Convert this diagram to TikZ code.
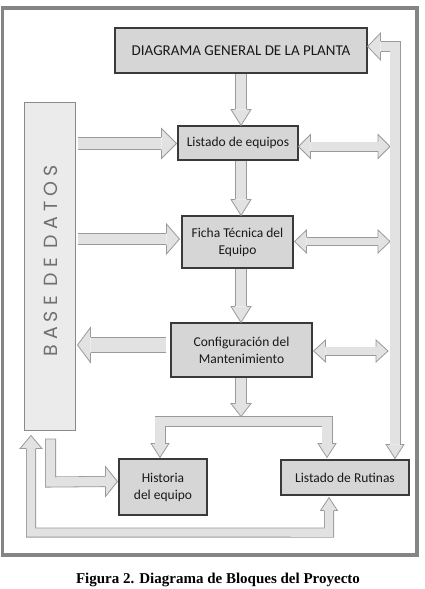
\documentclass[tikz,border=0pt]{standalone}
\usepackage{fontspec}
\setmainfont{Liberation Serif}
\newfontfamily\boxfont{Carlito}
\newfontfamily\dbfont[LetterSpace=26]{Poppins}
\usetikzlibrary{calc}
\definecolor{fl}{HTML}{9A9A9A}
\definecolor{ff}{HTML}{E2E2E2}
\definecolor{bx}{HTML}{D6D6D6}
\definecolor{bxl}{HTML}{3A3A3A}
\definecolor{dbf}{HTML}{EBEBEB}
\definecolor{dbl}{HTML}{8A8A8A}
\definecolor{dbt}{HTML}{707070}
\definecolor{frm}{HTML}{858585}
% fat shaft: width, path, inner options
\newcommand\fshaft[3]{%
  \draw[line width=#1pt, draw=fl, line join=miter, line cap=butt] #2;
  \draw[line width=#1pt-1.6pt, draw=ff, line join=miter, line cap=butt, #3] #2;}
% fat head: tip, angle, length, half width, shaft half width
\newcommand\fhead[5]{%
  \begin{scope}[shift={(#1)}, rotate=#2]
    \fill[ff] (-#3,#5) -- (-#3,#4) -- (0,0) -- (-#3,-#4) -- (-#3,-#5) -- cycle;
    \draw[fl, line width=0.8pt, line join=miter] (-#3,#5) -- (-#3,#4) -- (0,0) -- (-#3,-#4) -- (-#3,-#5);
  \end{scope}}
\tikzset{
  blk/.style={draw=bxl, fill=bx, line width=1.1pt, inner sep=0pt, align=center,
    font=\boxfont\fontsize{13.5}{17}\selectfont, text=black!90},
  tailcap/.style={shorten <=0.8pt},
}
\begin{document}
\begin{tikzpicture}[x=1pt,y=-1pt]
\useasboundingbox (0,0) rectangle (424,589);
\fill[white] (0,0) rectangle (424,589);
\draw[frm, line width=3.5pt] (2.5,8) rectangle (417,555);

% nodes
\node[blk, minimum width=252pt, minimum height=45pt, font=\boxfont\fontsize{15}{17}\selectfont] (top) at (241,50.5) {DIAGRAMA GENERAL DE LA PLANTA};
\node[blk, minimum width=120pt, minimum height=34pt] (lis) at (238,143) {Listado de equipos};
\node[blk, minimum width=111pt, minimum height=52pt] (fic) at (237.5,242) {Ficha Técnica del\\Equipo};
\node[blk, minimum width=141pt, minimum height=54pt] (con) at (241.5,350) {Configuración del\\Mantenimiento};
\node[blk, minimum width=88pt, minimum height=56pt] (his) at (163,487) {Historia\\del equipo};
\node[blk, minimum width=128pt, minimum height=35pt] (rut) at (345,477.5) {Listado de Rutinas};
\node[draw=dbl, fill=dbf, line width=1pt, minimum width=51pt, minimum height=328pt, inner sep=0pt] (bd) at (49.5,266) {};
\node[rotate=90, text=dbt, font=\dbfont\fontsize{19}{22}\selectfont, inner sep=0pt] (bdt) at ($(bd.center)+(1.5,-5)$) {BASE DE DATOS};

% spine arrows
\fshaft{12}{(top.south) -- ($(lis.north -| top.south)+(0,-16)$)}{}
\fhead{lis.north -| top.south}{-90}{16}{10}{5.6}
\fshaft{12}{(lis.south -| top.south) -- ($(fic.north -| top.south)+(0,-16)$)}{}
\fhead{fic.north -| top.south}{-90}{16}{10}{5.6}
\fshaft{12}{(fic.south -| top.south) -- ($(con.north -| top.south)+(0,-16)$)}{}
\fhead{con.north -| top.south}{-90}{16}{10}{5.6}
\coordinate (split) at ($(con.south -| top.south)+(0,39)$);
\fshaft{12}{(con.south -| top.south) -- ($(split)+(0,-13)$)}{}
% branch bar
\coordinate (bl) at ($(his.north)+(-3,-37)$);
\coordinate (br) at ($(rut.north)+(-18,-38)$);
\fshaft{11}{($(his.north)+(-3,-14)$) -- (bl) -- (br) -- ($(rut.north)+(-18,-15)$)}{}
\fhead{split}{-90}{13}{10}{5.6}
\fhead{$(his.north)+(-3,-1)$}{-90}{14}{9}{5.1}
\fhead{$(rut.north)+(-18,-2)$}{-90}{14}{9}{5.1}

% from data base
\fshaft{13}{($(bd.east |- lis.west)+(2,0.5)$) -- ($(lis.west)+(-16,0.5)$)}{tailcap}
\fhead{$(lis.west)+(-1,0.5)$}{0}{15}{15}{6.1}
\fshaft{12}{($(bd.east |- fic.west)+(2,-3)$) -- ($(fic.west)+(-15,-3)$)}{tailcap}
\fhead{$(fic.west)+(-2,-3)$}{0}{13}{15}{5.6}
\fshaft{16}{($(con.west)+(-4,-5)$) -- ($(bd.east |- con.west)+(15,-5)$)}{tailcap}
\fhead{$(bd.east |- con.west)+(2,-5)$}{180}{13}{17.5}{7.6}

% double arrows to right bar
\coordinate (rb) at (395,0);
\fshaft{10}{($(lis.east)+(12,3.5)$) -- ($(rb |- lis.east)+(-17,3.5)$)}{}
\fhead{$(lis.east)+(0,3.5)$}{180}{12}{12}{4.6}
\fhead{$(rb |- lis.east)+(-5,3.5)$}{0}{12}{12}{4.6}
\fshaft{9}{($(fic.east)+(13,-0.5)$) -- ($(rb |- fic.east)+(-17,-0.5)$)}{}
\fhead{$(fic.east)+(1,-0.5)$}{180}{12}{11.5}{4.1}
\fhead{$(rb |- fic.east)+(-5,-0.5)$}{0}{12}{11.5}{4.1}
\fshaft{9}{($(con.east)+(13,1)$) -- ($(rb |- con.east)+(-19,1)$)}{}
\fhead{$(con.east)+(1,1)$}{180}{12}{11}{4.1}
\fhead{$(rb |- con.east)+(-7,1)$}{0}{12}{11}{4.1}

% right loop
\fshaft{11}{($(top.east)+(13,-4)$) -- ($(rb |- top.east)+(0,-4)$) -- ($(rb |- rut.north)+(0,-15)$)}{}
\fhead{$(top.east)+(0,-4)$}{180}{13}{13.5}{5.1}
\fhead{$(rb |- rut.north)+(0,-1)$}{-90}{14}{9}{5.1}

% data base to history
\fshaft{11}{($(bd.south)+(1,8)$) -- ($(bd.south)+(1,51.5)$) -- ($(his.west)+(-13,-5.5)$)}{tailcap}
\fhead{$(his.west)+(-1,-5.5)$}{0}{12}{15}{5.1}

% bottom loop
\coordinate (bq) at ($(bd.south)+(-18.5,102)$);
\fshaft{10}{($(bd.south)+(-18.5,18)$) -- (bq) -- ($(rut.south)+(-16,37)$) -- ($(rut.south)+(-16,15)$)}{}
\fhead{$(bd.south)+(-18.5,5)$}{90}{13}{11}{4.6}
\fhead{$(rut.south)+(-16,2)$}{90}{13}{8.5}{4.6}

% caption
\node[anchor=base, font=\bfseries\fontsize{15}{17}\selectfont, inner sep=0pt] (cap) at (218,583) {Figura 2. Diagrama de Bloques del Proyecto};
\end{tikzpicture}
\end{document}
